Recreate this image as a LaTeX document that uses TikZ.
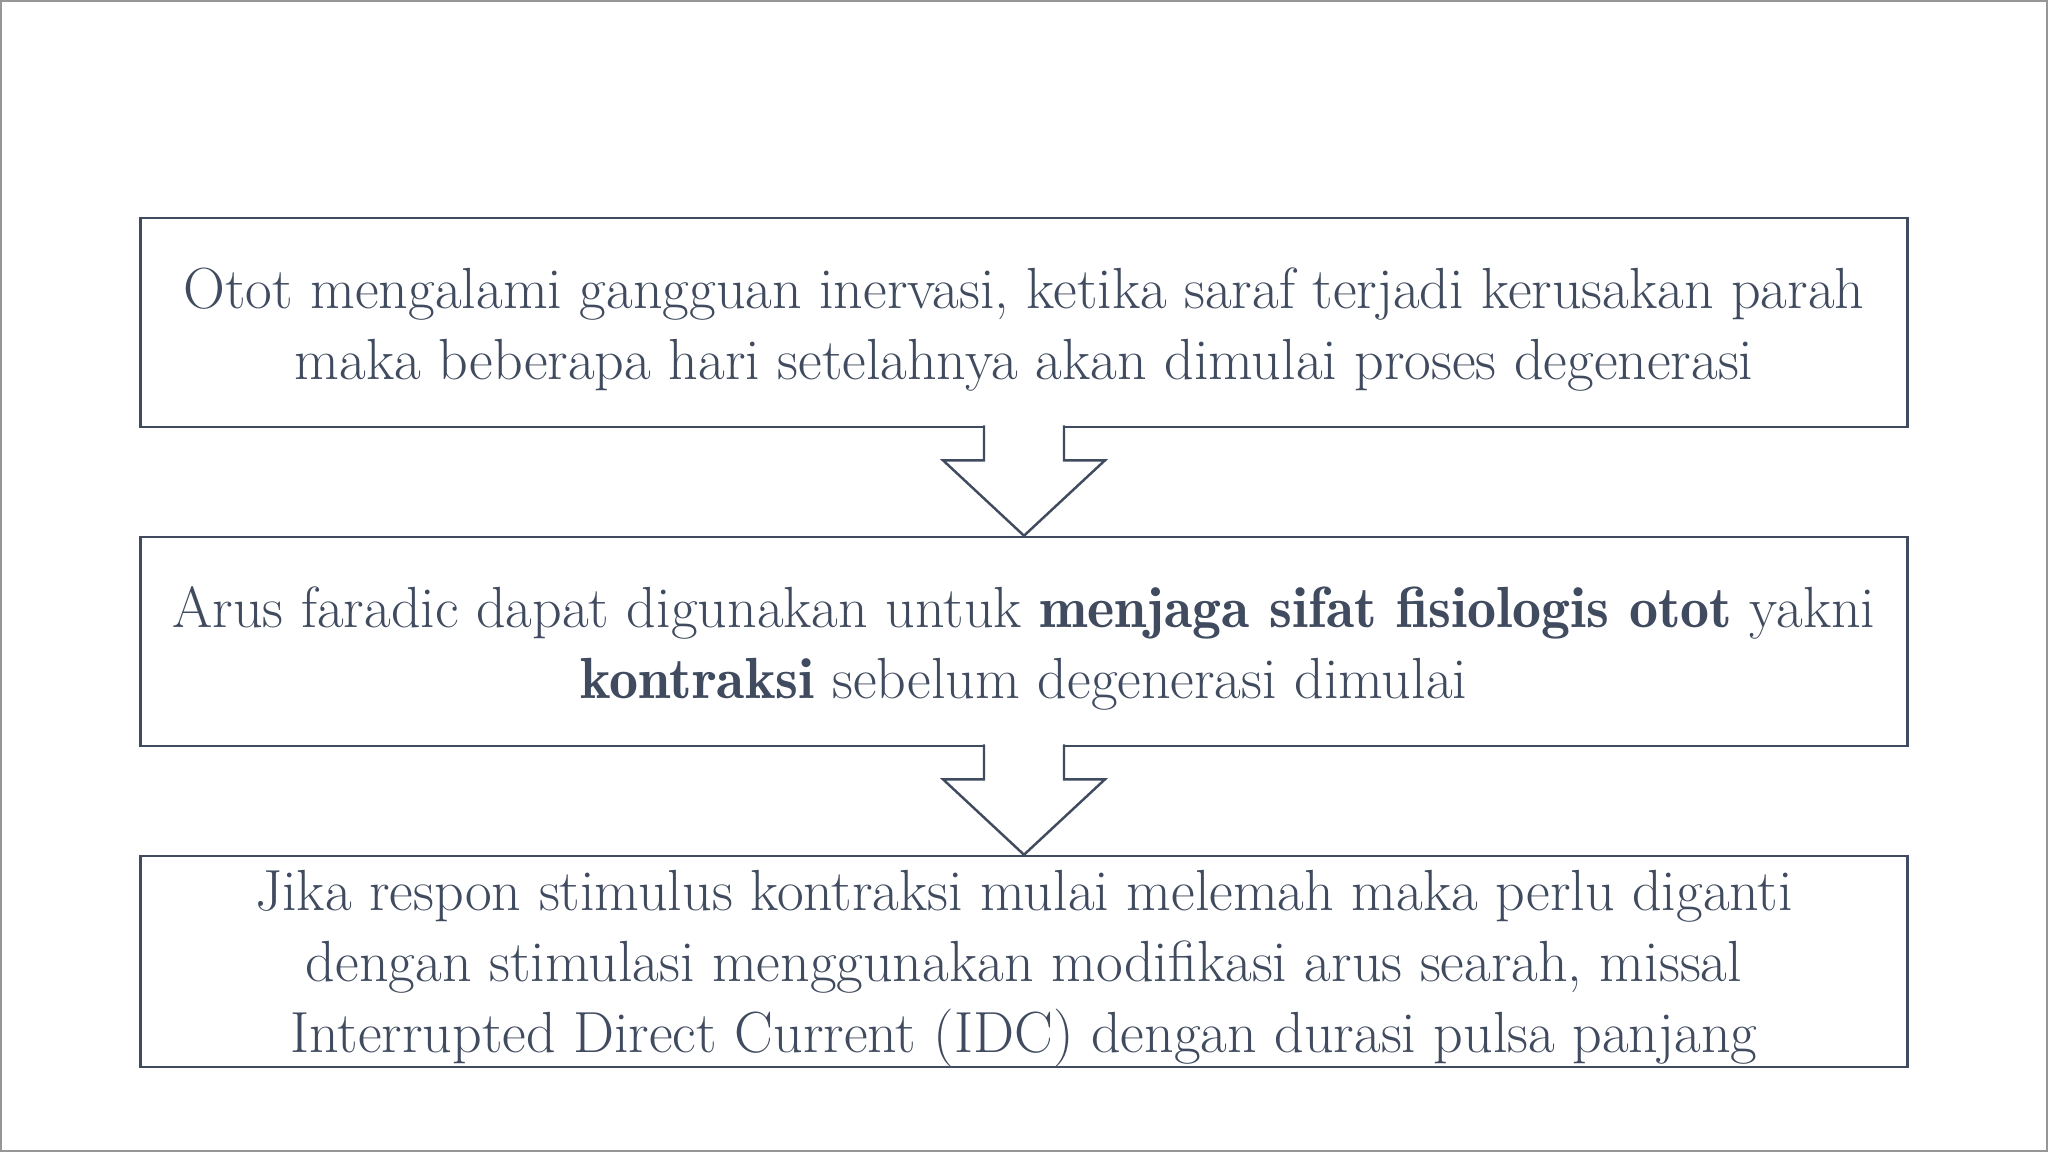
\documentclass[tikz,border=0pt]{standalone}
\usepackage{tikz}
\usetikzlibrary{positioning, calc}
\definecolor{inkcolor}{RGB}{64, 75, 95}
\definecolor{framecolor}{RGB}{150, 150, 150}
\newcommand{\keyterm}[1]{{\fontseries{b}\selectfont #1}}
\newcommand{\toprule}{\rule{0pt}{15.5pt}}

\begin{document}
\begin{tikzpicture}[x=0.01cm, y=-0.01cm,
    stage/.style={draw=inkcolor, line width=0.7pt, minimum width=17.66cm, minimum height=2.09cm, align=center, text=inkcolor, font=\fontsize{16.5}{20.2}\selectfont, inner sep=0pt},
    downarrow/.style={draw=inkcolor, line width=0.7pt, fill=white, line join=miter}
]
\useasboundingbox (0, 0) rectangle (2048, 1152);
\draw[framecolor, line width=0.5pt] (0.9, 0.9) rectangle (2047.1, 1151.1);

% Stages
\node[stage] (denervation) at (1024, 322.5) {\toprule Otot mengalami gangguan inervasi, ketika saraf terjadi kerusakan parah\\maka beberapa hari setelahnya akan dimulai proses degenerasi};
\node[stage] (faradic) at (1024, 641.5) {\toprule Arus faradic dapat digunakan untuk \keyterm{menjaga sifat fisiologis otot} yakni\\\keyterm{kontraksi} sebelum degenerasi dimulai};
\node[stage] (idc) at (1024, 961.5) {\toprule Jika respon stimulus kontraksi mulai melemah maka perlu diganti\\dengan stimulasi menggunakan modifikasi arus searah, missal\\Interrupted Direct Current (IDC) dengan durasi pulsa panjang};

% Arrows
\draw[downarrow] ($(denervation.south)+(-40,-3)$) -- ++(0,35) -- ++(-41,0) -- (faradic.north) -- ($(denervation.south)+(81,32)$) -- ++(-41,0) -- ++(0,-35);
\draw[downarrow] ($(faradic.south)+(-40,-3)$) -- ++(0,35) -- ++(-41,0) -- (idc.north) -- ($(faradic.south)+(81,32)$) -- ++(-41,0) -- ++(0,-35);

\end{tikzpicture}
\end{document}
